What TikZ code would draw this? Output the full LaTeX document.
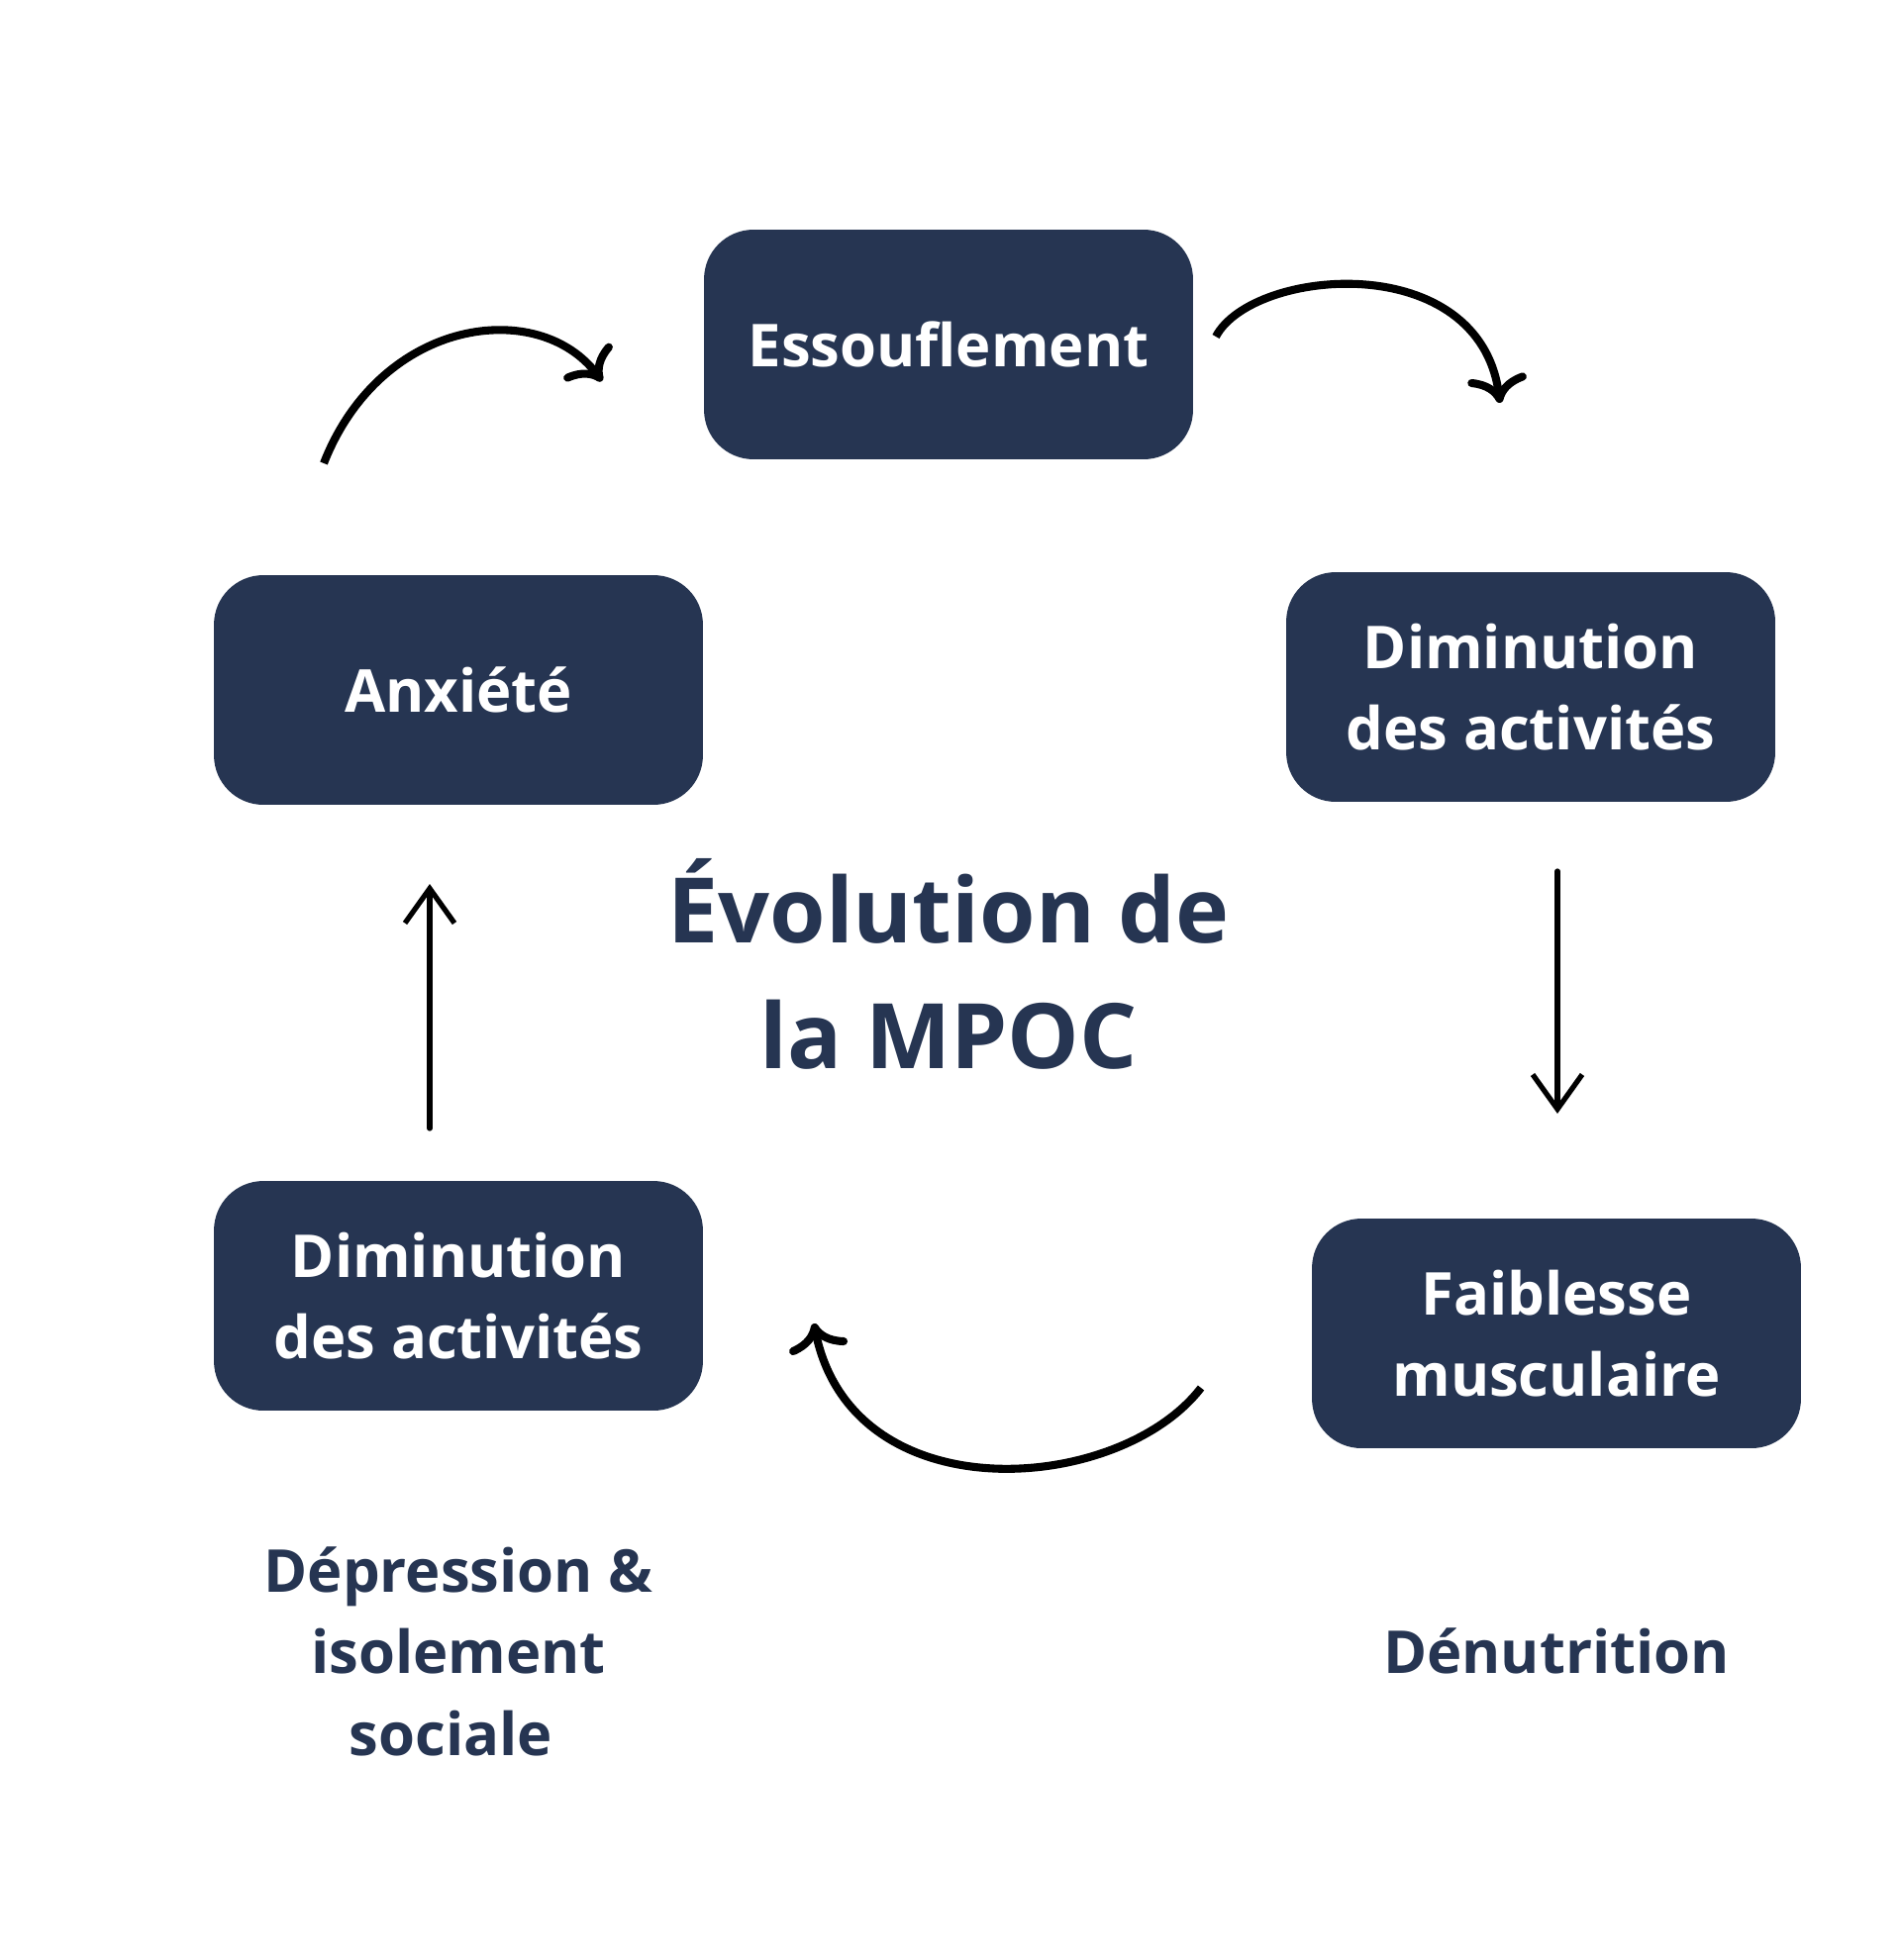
\documentclass[tikz,border=0pt]{standalone}
\usepackage{fontspec}
\setmainfont[Ligatures=NoCommon]{Open Sans}
\usetikzlibrary{arrows.meta,positioning,calc}
\definecolor{mpnavy}{RGB}{38,53,82}
\tikzset{
  etape/.style={
    fill=mpnavy, text=white, rounded corners=1cm,
    minimum width=9.88cm, minimum height=4.64cm, inner sep=0pt,
    align=center, font=\fontsize{34}{47}\selectfont\bfseries
  },
  lbl/.style={text=mpnavy, align=center, font=\fontsize{34}{47}\selectfont\bfseries},
  titre/.style={text=mpnavy, align=center, font=\fontsize{52}{72}\selectfont\bfseries},
  fl/.style={-{Computer Modern Rightarrow[length=5.5mm,width=12mm]}, line width=4.6pt},
  flv/.style={-{Straight Barb[length=7mm,width=10mm]}, line width=3pt, line cap=round}
}

\begin{document}
\begin{tikzpicture}[x=0.02cm, y=-0.02cm]
  \fill[white] (0,0) rectangle (1920,1980);
  \node[etape] (ess) at (958,348) {Essouflement};
  \node[etape] (dimd) at (1546,694) {Diminution\\des activités};
  \node[etape] (faib) at (1572,1347) {Faiblesse\\musculaire};
  \node[etape] (dimg) at (463,1309) {Diminution\\des activités};
  \node[etape] (anx) at (463,697) {Anxiété};
  \node[titre] (tit) at (958,974) {Évolution de\\la MPOC};
  \node[lbl] (dep) at (463,1668) {Dépression \&\\isolement\\sociale\hspace*{0.3cm}};
  \node[lbl] (den) at (1572,1668) {Dénutrition};
  % free ends of the connectors
  \coordinate (a1s) at (327,468);  \coordinate (a1e) at (608,385);
  \coordinate (a2s) at (1228,340); \coordinate (a2e) at (1515,407);
  \coordinate (a3s) at (1213,1402); \coordinate (a3e) at (822,1337);
  \coordinate (a4s) at (434,1140); \coordinate (a4e) at (434,893);
  \coordinate (a5s) at (1573,880); \coordinate (a5e) at (1573,1125);
  \draw[fl] (a1s) .. controls (385,320) and (545,300) .. (a1e);
  \draw[fl] (a2s) .. controls (1265,270) and (1495,250) .. (a2e);
  \draw[fl] (a3s) .. controls (1130,1510) and (860,1530) .. (a3e);
  \draw[flv] (a4s) -- (a4e);
  \draw[flv] (a5s) -- (a5e);
\end{tikzpicture}
\end{document}
